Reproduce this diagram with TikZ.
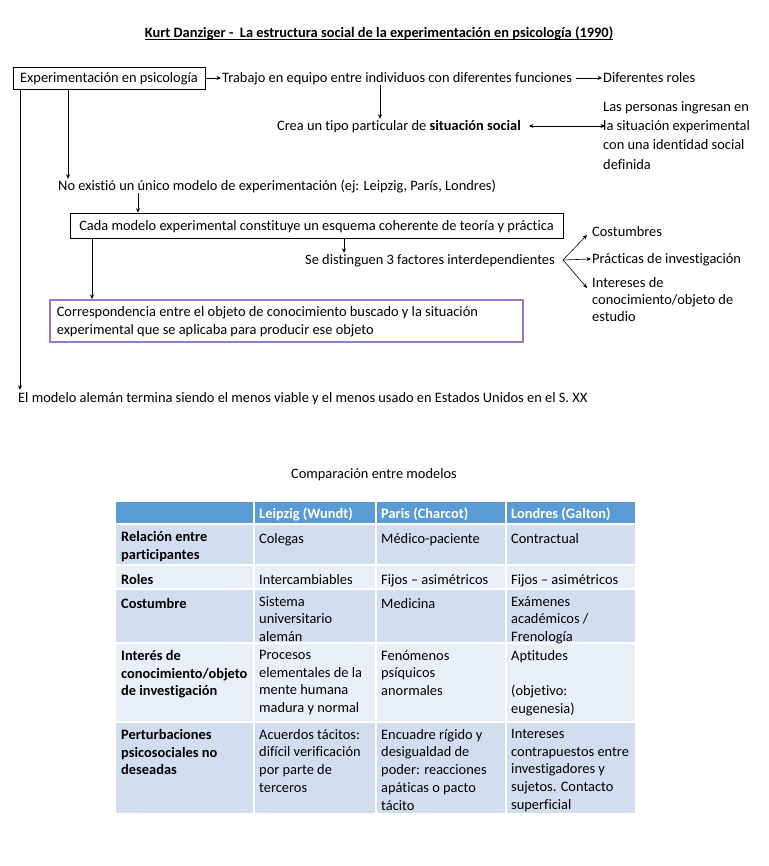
\documentclass[tikz,border=0pt]{standalone}
\usepackage{fontspec}
\setmainfont{Carlito}[Ligatures=NoCommon]
\usetikzlibrary{arrows.meta,shadows}
\newcommand\bodyfont{\fontsize{14.4}{17.7}\selectfont}
\definecolor{hdrblue}{RGB}{91,155,213}
\definecolor{bandA}{RGB}{210,222,239}
\definecolor{bandB}{RGB}{233,239,247}
\definecolor{boxpurple}{RGB}{160,118,205}
\begin{document}
\begin{tikzpicture}[x=1pt,y=-1pt,
  conn/.style={-{Stealth[length=4.5pt,width=4pt]}, line width=0.6pt},
  dconn/.style={{Stealth[length=4.5pt,width=4pt]}-{Stealth[length=4.5pt,width=4pt]}, line width=0.6pt},
  txt/.style={inner sep=1pt, text height=11pt, text depth=1pt, font=\bodyfont, anchor=west},
  ml/.style={inner sep=0pt, anchor=north west, align=left, font=\bodyfont, execute at begin node={\rule{0pt}{12.5pt}}},
  cell/.style={ml},
  hcell/.style={ml, text=white, font=\bodyfont\bfseries},
  fcell/.style={ml, font=\bodyfont\bfseries}
]
\useasboundingbox (0,0) rectangle (768,866);

% title
\node[inner sep=0pt, font=\bodyfont\bfseries, text height=11pt, text depth=1pt] (title) at (379,33)
  {Kurt Danziger -\ \ La estructura social de la experimentación en psicología (1990)};
\draw[line width=0.6pt] ([yshift=-1.6pt]title.base west) -- ([yshift=-1.6pt]title.base east);

% top row
\node[txt, draw, line width=0.9pt, anchor=center, minimum width=192pt, minimum height=22pt] (box1) at (109,78) {Experimentación en psicología};
\node[txt] (trabajo) at (221,78) {Trabajo en equipo entre individuos con diferentes funciones};
\node[txt] (roles) at (602,78) {Diferentes roles};
\draw[conn] (box1.east) -- (trabajo.west);
\draw[conn] ([xshift=3pt]trabajo.east) -- (roles.west);

\node[txt] (crea) at (276,126) {Crea un tipo particular de \textbf{situación social}};
\coordinate (cx1) at (380,0);
\draw[conn] (trabajo.south -| cx1) -- (crea.north -| cx1);

\node[ml, font=\fontsize{14.4}{19.4}\selectfont] (personas) at (603,101)
  {Las personas ingresan en\\la situación experimental\\con una identidad social\\definida};
\coordinate (cy1) at (598,0);
\draw[dconn] ([xshift=7pt]crea.east) -- ([xshift=7pt]crea.east -| cy1);

% second level
\node[txt] (noexiste) at (57,186) {No existió un único modelo de experimentación (ej: Leipzig, París, Londres)};
\coordinate (cx2) at (68,0);
\draw[conn] (box1.south -| cx2) -- (noexiste.north -| cx2);

\node[txt, draw, line width=0.8pt, anchor=center, minimum width=493pt, minimum height=25pt] (box2) at (316.5,225.5)
  {Cada modelo experimental constituye un esquema coherente de teoría y práctica};
\coordinate (cx3) at (138,0);
\draw[conn] (noexiste.south -| cx3) -- (box2.north -| cx3);

\node[txt] (factores) at (304,260) {Se distinguen 3 factores interdependientes};
\coordinate (cx4) at (344,0);
\draw[conn] (box2.south -| cx4) -- (factores.north -| cx4);

\node[txt] (costumbres) at (591,232) {Costumbres};
\node[txt] (practicas) at (591,259) {Prácticas de investigación};
\node[ml, font=\fontsize{14.4}{17}\selectfont] (intereses) at (592,277)
  {Intereses de\\conocimiento/objeto de\\estudio};
\coordinate (fx) at (563,260);
\draw[conn] (fx) -- ([shift={(-4,3)}]costumbres.west);
\draw[conn] (fx) -- (practicas.west);
\draw[conn] (fx) -- ([shift={(-5,11)}]intereses.north west);

\node[ml, draw=boxpurple, fill=white, line width=1.6pt, inner xsep=7pt, inner ysep=3pt, text width=459pt,
  align=flush left, font=\fontsize{14.4}{18}\selectfont, drop shadow={opacity=0.18, shadow xshift=1pt, shadow yshift=-1pt},
  minimum height=42pt] (box3) at (49,299)
  {Correspondencia entre el objeto de conocimiento buscado y la situación\\experimental que se aplicaba para producir ese objeto};
\coordinate (cx5) at (92,0);
\draw[conn] (box2.south -| cx5) -- (box3.north -| cx5);

\node[txt] (aleman) at (17,397) {El modelo alemán termina siendo el menos viable y el menos usado en Estados Unidos en el S. XX};
\coordinate (cx6) at (20,0);
\draw[conn] (box1.south -| cx6) -- (aleman.north -| cx6);

% table
\node[txt, anchor=center] (comp) at (374,473) {Comparación entre modelos};

\fill[hdrblue] (116,502) rectangle (635,524);
\fill[bandA] (116,524) rectangle (635,565);
\fill[bandB] (116,565) rectangle (635,589);
\fill[bandA] (116,589) rectangle (635,643);
\fill[bandB] (116,643) rectangle (635,722);
\fill[bandA] (116,722) rectangle (635,813);
\foreach \xx in {254,376,506} \draw[white, line width=1.5pt] (\xx,502) -- (\xx,813);
\foreach \yy in {524,565,589,643,722} \draw[white, line width=1.5pt] (116,\yy) -- (635,\yy);

\node[hcell] (h1) at (259,506) {Leipzig (Wundt)};
\node[hcell] (h2) at (381,506) {Paris (Charcot)};
\node[hcell] (h3) at (511,506) {Londres (Galton)};

\node[fcell] (r1) at (121,531) {Relación entre\\participantes};
\node[cell] (r1a) at (259,531) {Colegas};
\node[cell] (r1b) at (381,531) {Médico-paciente};
\node[cell] (r1c) at (511,531) {Contractual};

\node[fcell] (r2) at (121,572) {Roles};
\node[cell] (r2a) at (259,572) {Intercambiables};
\node[cell] (r2b) at (381,572) {Fijos – asimétricos};
\node[cell] (r2c) at (511,572) {Fijos – asimétricos};

\node[fcell] (r3) at (121,596) {Costumbre};
\node[cell] (r3a) at (259,596) {Sistema\\universitario\\alemán};
\node[cell] (r3b) at (381,596) {Medicina};
\node[cell] (r3c) at (511,596) {Exámenes\\académicos /\\Frenología};

\node[fcell] (r4) at (121,650) {Interés de\\conocimiento/objeto\\de investigación};
\node[cell] (r4a) at (259,650) {Procesos\\elementales de la\\mente humana\\madura y normal};
\node[cell] (r4b) at (381,650) {Fenómenos\\psíquicos\\anormales};
\node[cell] (r4c) at (511,650) {Aptitudes\\\\(objetivo:\\eugenesia)};

\node[fcell] (r5) at (121,729) {Perturbaciones\\psicosociales no\\deseadas};
\node[cell] (r5a) at (259,729) {Acuerdos tácitos:\\difícil verificación\\por parte de\\terceros};
\node[cell] (r5b) at (381,729) {Encuadre rígido y\\desigualdad de\\poder: reacciones\\apáticas o pacto\\tácito};
\node[cell] (r5c) at (511,729) {Intereses\\contrapuestos entre\\investigadores y\\sujetos. Contacto\\superficial};
\end{tikzpicture}
\end{document}
